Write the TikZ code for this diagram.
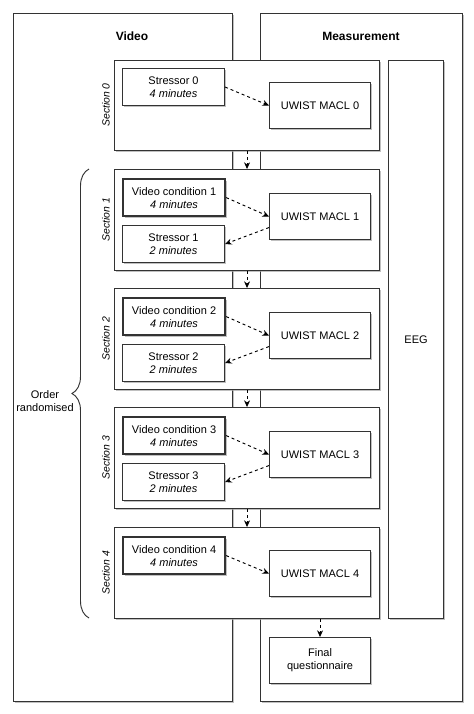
\documentclass[tikz,border=0pt]{standalone}
\usepackage{fontspec}
\setmainfont{Liberation Sans}
\usetikzlibrary{arrows.meta, decorations.pathreplacing, shadows}

\tikzset{
    shade/.style = {drop shadow={shadow xshift=1.1pt, shadow yshift=-1.3pt, fill=black!35, opacity=0.7}},
    col/.style = {draw=black!80, line width=1pt, fill=white, anchor=north west, inner sep=0, shade},
    sect/.style = {draw=black!80, line width=0.8pt, fill=white, anchor=north west, inner sep=0,
        minimum width=198.75pt, shade},
    sbox/.style = {draw=black!80, line width=0.8pt, fill=white, anchor=north west, inner sep=0,
        align=center, minimum width=76.5pt, minimum height=27.75pt, shade,
        font=\fontsize{8.25}{9.75}\selectfont},
    vbox/.style = {sbox, line width=1.6pt},
    mbox/.style = {sbox, minimum width=75.75pt, minimum height=34.5pt},
    title/.style = {font=\fontsize{9}{11}\selectfont\bfseries},
    seclabel/.style = {rotate=90, font=\fontsize{7.8}{9}\selectfont\itshape},
    flow/.style = {densely dashed, dash pattern=on 2.25pt off 2.25pt, line width=0.7pt,
        -{Stealth[length=5pt, width=4.5pt]}},
    brace/.style = {decorate, decoration={brace, amplitude=12.75pt}, line width=0.7pt, draw=black!80}
}

\begin{document}
\begin{tikzpicture}[x=0.75pt, y=-0.75pt]

    \useasboundingbox[fill=white] (0,0) rectangle (474,714);

    % the two columns
    \node[col, minimum width=164.25pt, minimum height=516pt] (video) at (13,13) {};
    \node[col, minimum width=151.5pt, minimum height=516pt] (meas) at (260,13) {};

    \node[title] (videotitle) at (132,36) {Video};
    \node[title] (meastitle) at (361,36) {Measurement};

    \node[sbox, minimum width=41.25pt, minimum height=418.5pt] (eeg) at (388,60) {EEG};

    % section 0
    \node[sect, minimum height=67.5pt] (sec0) at (114,60) {};
    \node[seclabel] (lab0) at (106,105) {Section 0};
    \node[sbox] (st0) at (122,68) {Stressor 0\\\textit{4 minutes}};
    \node[mbox] (mc0) at (269,82) {UWIST MACL 0};
    \draw[flow] (st0.east) -- (mc0.west);

    % sections 1 to 3
    \foreach \s/\y in {1/169, 2/288, 3/407} {
        \node[sect, minimum height=75.75pt] (sec\s) at (114,\y) {};
        \node[seclabel] (lab\s) at (106,\y+50.5) {Section \s};
        \node[vbox] (vc\s) at (122,\y+9) {Video condition \s\\\textit{4 minutes}};
        \node[sbox] (st\s) at (122,\y+56) {Stressor \s\\\textit{2 minutes}};
        \node[mbox] (mc\s) at (269,\y+24) {UWIST MACL \s};
        \draw[flow] (vc\s.east) -- (mc\s.west);
        \draw[flow] ([yshift=-8.25pt]mc\s.west) -- (st\s.east);
    }

    % section 4
    \node[sect, minimum height=68.25pt] (sec4) at (114,527) {};
    \node[seclabel] (lab4) at (106,572.5) {Section 4};
    \node[vbox] (vc4) at (122,536) {Video condition 4\\\textit{4 minutes}};
    \node[mbox] (mc4) at (269,550) {UWIST MACL 4};
    \draw[flow] (vc4.east) -- (mc4.west);

    \foreach \p/\q in {0/1, 1/2, 2/3, 3/4}
        \draw[flow] (sec\p.south) -- (sec\q.north);

    \node[mbox] (final) at (269,637) {Final\\questionnaire};
    \draw[flow] (sec4.south -| final.north) -- (final.north);

    % order randomised
    \draw[brace] (89,618) -- (89,169);
    \node[align=center, font=\fontsize{8.25}{9.6}\selectfont] (order) at (45,401) {Order\\randomised};

\end{tikzpicture}
\end{document}
